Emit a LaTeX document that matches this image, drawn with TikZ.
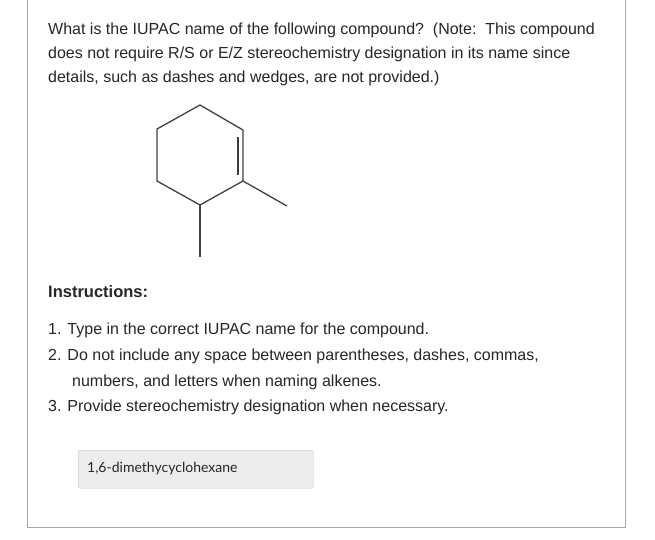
\documentclass[tikz,border=0pt]{standalone}
\usepackage{fontspec}
\setmainfont{Liberation Sans}
\newfontfamily\latofont{Lato}
\begin{document}
\begin{tikzpicture}[x=1pt,y=-1pt,
  txt/.style={anchor=base west,inner sep=0pt,font=\fontsize{16}{19}\selectfont,text=black!85},
  bond/.style={draw=black!75,line width=1.3pt}]
\useasboundingbox (0,0) rectangle (655,539);
\draw[draw=black!35,line width=0.8pt] (27,-2) -- (27,527) -- (625,527) -- (625,-2);
\node[txt] (l1) at (48,34) {What is the IUPAC name of the following compound?\ \ (Note:\ \ This compound};
\node[txt] (l2) at (48,58) {does not require R/S or E/Z stereochemistry designation in its name since};
\node[txt] (l3) at (48,82) {details, such as dashes and wedges, are not provided.)};
\coordinate (a) at (200,105);
\coordinate (b) at (243,130);
\coordinate (c) at (243,181);
\coordinate (d) at (200,205);
\coordinate (e) at (157,181);
\coordinate (f) at (157,129);
\coordinate (m1) at (287,206);
\coordinate (m2) at (200,257);
\coordinate (i1) at (238,137);
\coordinate (i2) at (238,175);
\draw[bond] (a)--(b)--(c)--(d)--(e)--(f)--cycle;
\draw[bond] (i1)--(i2);
\draw[bond] (c)--(m1);
\draw[bond] (d)--(m2);
\node[txt,font=\fontsize{16.5}{19}\selectfont\bfseries] (ins) at (48,297) {Instructions:};
\node[txt] (n1) at (48,334) {1. Type in the correct IUPAC name for the compound.};
\node[txt] (n2) at (48,360) {2. Do not include any space between parentheses, dashes, commas,};
\node[txt] (n2b) at (72,386) {numbers, and letters when naming alkenes.};
\node[txt] (n3) at (48,411) {3. Provide stereochemistry designation when necessary.};
\node[draw=black!25,fill=black!7,rounded corners=1.5pt,minimum width=235pt,minimum height=38pt,anchor=north west,inner sep=0pt] (box) at (78,450) {};
\node[anchor=west,inner sep=0pt,font=\latofont\fontsize{14}{16}\selectfont,text=black!85] (ans) at (87,469) {1,6-dimethycyclohexane};
\end{tikzpicture}
\end{document}
